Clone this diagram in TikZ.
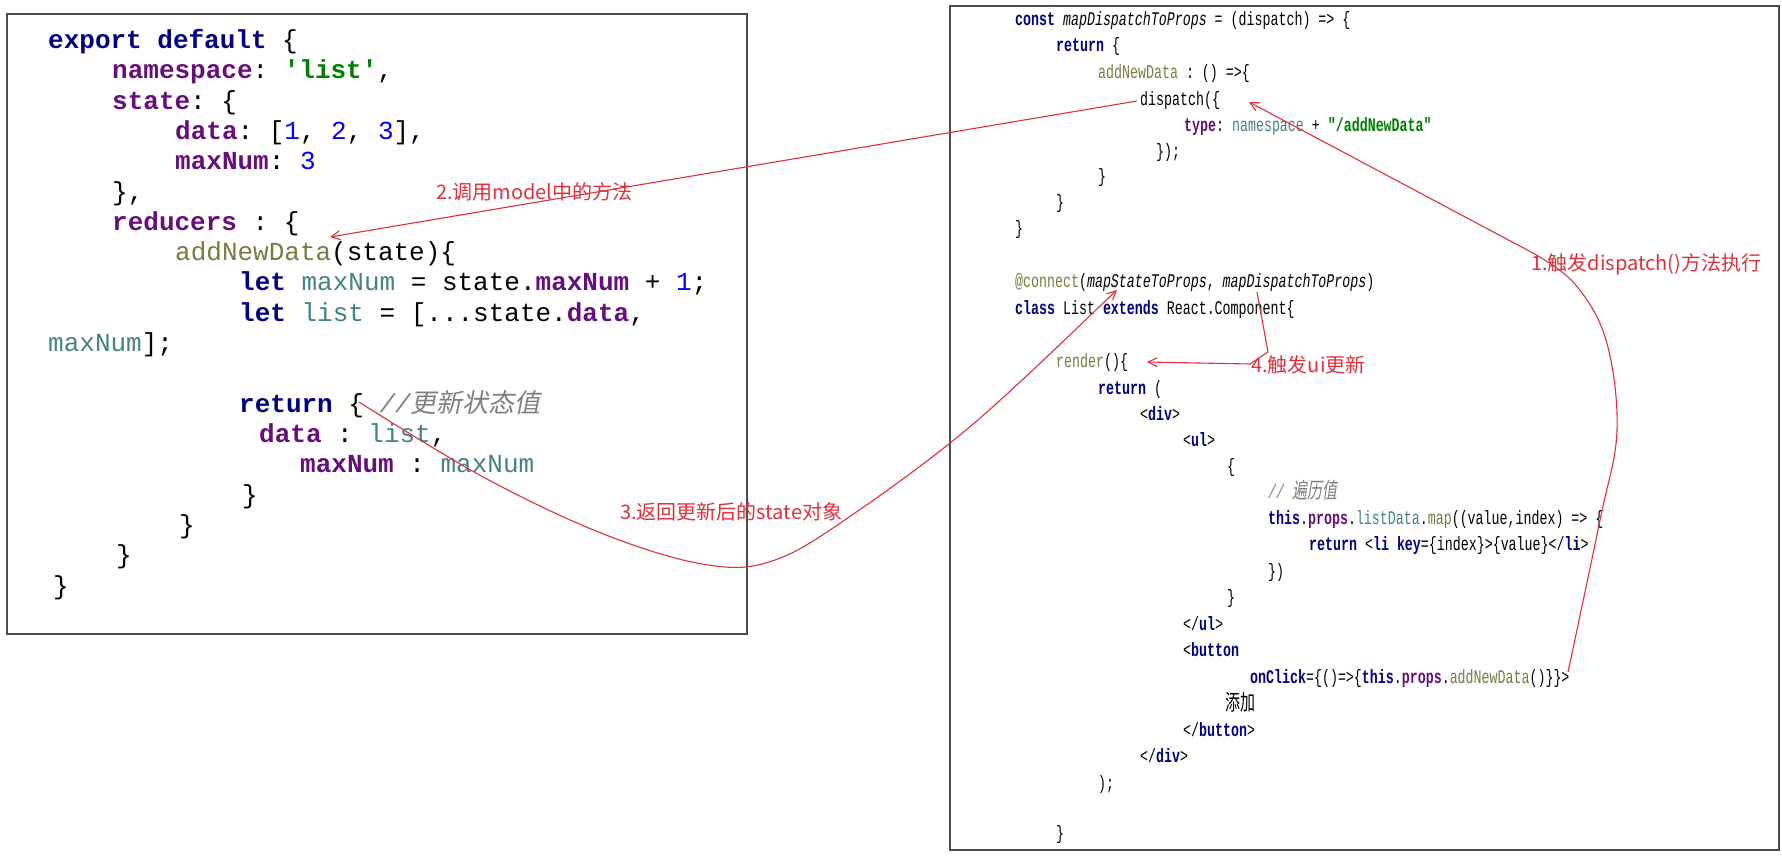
\documentclass[tikz,border=0pt]{standalone}
\usepackage{fontspec}
\usetikzlibrary{arrows.meta}
\setmonofont{Liberation Mono}
\newfontfamily\cjk{Noto Sans CJK SC}
\newfontfamily\cjkit[FakeSlant=0.2]{Noto Sans CJK SC}
\definecolor{kwc}{HTML}{000080}
\definecolor{prc}{HTML}{660E7A}
\definecolor{stc}{HTML}{008000}
\definecolor{nmc}{HTML}{0000FF}
\definecolor{lvc}{HTML}{458383}
\definecolor{fnc}{HTML}{7A7A43}
\definecolor{cmc}{HTML}{808080}
\definecolor{annc}{HTML}{E0303A}
\newcommand\kw[1]{\textcolor{kwc}{\bfseries #1}}
\newcommand\pr[1]{\textcolor{prc}{\bfseries #1}}
\newcommand\st[1]{\textcolor{stc}{\bfseries #1}}
\newcommand\nm[1]{\textcolor{nmc}{#1}}
\newcommand\lv[1]{\textcolor{lvc}{#1}}
\newcommand\fn[1]{\textcolor{fnc}{#1}}
\newcommand\rc[1]{\scalebox{1}[1.45]{#1}}
\tikzset{
  lcode/.style={anchor=base west,inner sep=0pt,font=\ttfamily\fontsize{26}{30}\selectfont},
  rcode/.style={anchor=base west,inner sep=0pt,font=\ttfamily\fontsize{13.3}{16}\selectfont},
  ann/.style={anchor=base west,inner sep=0pt,text=annc,font=\cjk\fontsize{20}{24}\selectfont},
  link/.style={draw=annc,line width=1.1pt},
  tip/.style={-{Straight Barb[length=9pt,width=9pt]}},
  codebox/.style={draw=black!70,line width=1.5pt}
}
\begin{document}
\begin{tikzpicture}[x=1pt,y=-1pt]
\useasboundingbox[fill=white] (0,0) rectangle (1782,862);
\draw[codebox] (7,14) rectangle (747,634);
\draw[codebox] (950,6) rectangle (1779,850);
% left code
\node[lcode] (l0) at (48,48) {\kw{export default} \{};
\node[lcode] (l1) at (112,78) {\pr{namespace}: \st{'list'},};
\node[lcode] (l2) at (112,109) {\pr{state}: \{};
\node[lcode] (l3) at (175,139) {\pr{data}: [\nm{1}, \nm{2}, \nm{3}],};
\node[lcode] (l4) at (175,169) {\pr{maxNum}: \nm{3}};
\node[lcode] (l5) at (112,200) {\},};
\node[lcode] (l6) at (112,230) {\pr{reducers} : \{};
\node[lcode] (l7) at (175,260) {\fn{addNewData}(state)\{};
\node[lcode] (l8) at (239,290) {\kw{let} \lv{maxNum} = state.\pr{maxNum} + \nm{1};};
\node[lcode] (l9) at (239,321) {\kw{let} \lv{list} = [...state.\pr{data},};
\node[lcode] (l10) at (48,351) {\lv{maxNum}];};
\node[lcode] (l12) at (239,412) {\kw{return} \{ \textcolor{cmc}{\itshape //\cjkit 更新状态值}};
\node[lcode] (l13) at (259,442) {\pr{data} : \lv{list},};
\node[lcode] (l14) at (300,472) {\pr{maxNum} : \lv{maxNum}};
\node[lcode] (l15) at (242,503) {\}};
\node[lcode] (l16) at (179,533) {\}};
\node[lcode] (l17) at (116,563) {\}};
\node[lcode] (l18) at (53,594) {\}};
% right code
\node[rcode] (r0) at (1015,25) {\rc{\kw{const} \textit{mapDispatchToProps} = (dispatch) => \{}};
\node[rcode] (r1) at (1056,51) {\rc{\kw{return} \{}};
\node[rcode] (r2) at (1098,78) {\rc{\fn{addNewData} : () =>\{}};
\node[rcode] (r3) at (1140,105) {\rc{dispatch(\{}};
\node[rcode] (r4) at (1184,131) {\rc{\pr{type}: \lv{namespace} + \st{"/addNewData"}}};
\node[rcode] (r5) at (1156,157) {\rc{\});}};
\node[rcode] (r6) at (1098,182) {\rc{\}}};
\node[rcode] (r7) at (1056,208) {\rc{\}}};
\node[rcode] (r8) at (1015,234) {\rc{\}}};
\node[rcode] (r9) at (1015,287) {\rc{\fn{@connect}(\textit{mapStateToProps}, \textit{mapDispatchToProps})}};
\node[rcode] (r10) at (1015,314) {\rc{\kw{class} List \kw{extends} React.Component\{}};
\node[rcode] (r11) at (1056,367) {\rc{\fn{render}()\{}};
\node[rcode] (r12) at (1098,394) {\rc{\kw{return} (}};
\node[rcode] (r13) at (1140,420) {\rc{<\kw{div}>}};
\node[rcode] (r14) at (1183,446) {\rc{<\kw{ul}>}};
\node[rcode] (r15) at (1227,472) {\rc{\{}};
\node[rcode] (r16) at (1268,498) {\rc{\textcolor{cmc}{\itshape // {\cjkit\fontsize{15}{16}\selectfont 遍历值}}}};
\node[rcode] (r17) at (1268,524) {\rc{\kw{this}.\pr{props}.\lv{listData}.\fn{map}((value,index) => \{}};
\node[rcode] (r18) at (1309,550) {\rc{\kw{return} <\kw{li} \kw{key}=\{index\}>\{value\}</\kw{li}>}};
\node[rcode] (r19) at (1268,577) {\rc{\})}};
\node[rcode] (r20) at (1227,603) {\rc{\}}};
\node[rcode] (r21) at (1183,630) {\rc{</\kw{ul}>}};
\node[rcode] (r22) at (1183,656) {\rc{<\kw{button}}};
\node[rcode] (r23) at (1250,683) {\rc{\kw{onClick}=\{()=>\{\kw{this}.\pr{props}.\fn{addNewData}()\}\}>}};
\node[rcode] (r24) at (1225,710) {\rc{{\cjk\fontsize{15}{16}\selectfont 添加}}};
\node[rcode] (r25) at (1183,736) {\rc{</\kw{button}>}};
\node[rcode] (r26) at (1140,762) {\rc{</\kw{div}>}};
\node[rcode] (r27) at (1098,789) {\rc{);}};
\node[rcode] (r28) at (1056,839) {\rc{\}}};
% annotations
\node[ann] (a1) at (1531,270) {1.触发dispatch()方法执行};
\node[ann] (a2) at (436,199) {2.调用model中的方法};
\node[ann] (a3) at (620,519) {3.返回更新后的state对象};
\node[ann] (a4) at (1251,372) {4.触发ui更新};
% connector coordinates
\coordinate (p1s) at (1568,672);
\coordinate (p1e) at (1249,102);
\coordinate (p2s) at (1137,101);
\coordinate (p2e) at (330,237);
\coordinate (p3s) at (359,402);
\coordinate (p3e) at (1117,290);
\coordinate (p4s) at (1257,292);
\coordinate (p4e) at (1147,362);
% 1
\draw[link] plot[smooth,tension=0.6] coordinates {(p1s) (1600,520) (1617,430) (1606,340) (1574,283) (1531,252)};
\draw[link,tip] (1531,252) -- (p1e);
% 2
\draw[link,tip] (p2s) -- (p2e);
% 3
\draw[link] plot[smooth,tension=0.6] coordinates {(p3s) (485,478) (606,535) (708,565) (775,560) (852,515) (972,425) (1100,306)};
\draw[link,tip] (1100,306) -- (p3e);
% 4
\draw[link,tip] (p4s) -- (1268,352) -- (1250,364) -- (p4e);
\end{tikzpicture}
\end{document}
